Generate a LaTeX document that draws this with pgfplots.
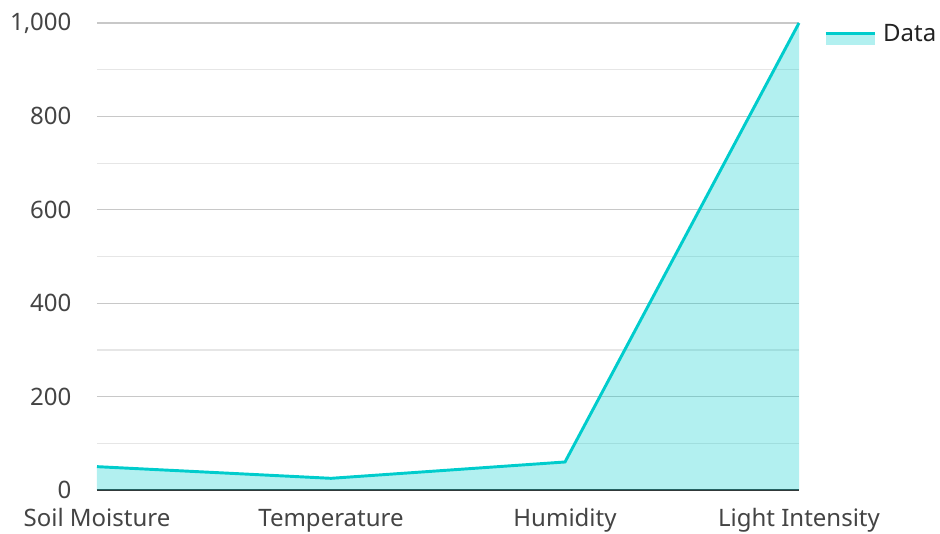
\documentclass[border=0pt]{standalone}
\usepackage{pgfplots}
\pgfplotsset{compat=1.18}
\usepackage{fontspec}
\setmainfont{Noto Sans}
\definecolor{linec}{RGB}{0,204,204}
\definecolor{majg}{RGB}{200,200,200}
\definecolor{ming}{RGB}{230,230,230}
\definecolor{txt}{RGB}{68,68,68}
\begin{document}
\begin{tikzpicture}[x=1pt,y=1pt]
\useasboundingbox (-72.75,-32.25) rectangle (632.25,367.5);
\begin{axis}[
  at={(0,0)}, anchor=south west,
  scale only axis, width=526.5pt, height=350.25pt,
  xmin=0, xmax=3, ymin=0, ymax=1000,
  xtick={0,1,2,3},
  xticklabels={Soil Moisture,Temperature,Humidity,Light Intensity},
  ytick={0,200,400,600,800,1000},
  minor ytick={100,300,500,700,900},
  ymajorgrids, yminorgrids,
  major grid style={majg, line width=0.9pt},
  minor grid style={ming, line width=0.9pt},
  major tick length=0pt, minor tick length=0pt,
  axis y line*=left, axis x line*=bottom,
  y axis line style={draw=none},
  x axis line style={draw={rgb,255:red,51;green,51;blue,51}, line width=1.6pt},
  tick label style={font=\fontsize{18}{21}\selectfont, text=txt, inner sep=0pt},
  yticklabel style={anchor=east, xshift=-19pt},
  xticklabel style={anchor=base, yshift=-27.5pt},
  /pgf/number format/1000 sep={,},
  /pgf/number format/assume math mode=true,
  clip=false,
  legend style={at={(rel axis cs:1.0356,0.975)}, anchor=west, draw=none, fill=none,
    font=\fontsize{18}{21}\selectfont, text={rgb,255:red,34;green,34;blue,34}, inner sep=0pt,
    nodes={inner sep=0pt}, legend cell align=left},
]
\addplot[draw=none, fill=linec, fill opacity=0.3, forget plot] coordinates {
  (0,50) (1,25) (2,60) (3,1000)
} \closedcycle;
\addplot[linec, line width=2.2pt,
  legend image code/.code={
    \fill[linec, fill opacity=0.3, draw=none] (0pt,-9pt) rectangle (37pt,0pt);
    \draw[linec, line width=2.2pt] (0pt,0pt) -- (37pt,0pt);
  }] coordinates {
  (0,50) (1,25) (2,60) (3,1000)
};
\addlegendentry{\hspace{5pt}Data}
\end{axis}
\end{tikzpicture}
\end{document}
